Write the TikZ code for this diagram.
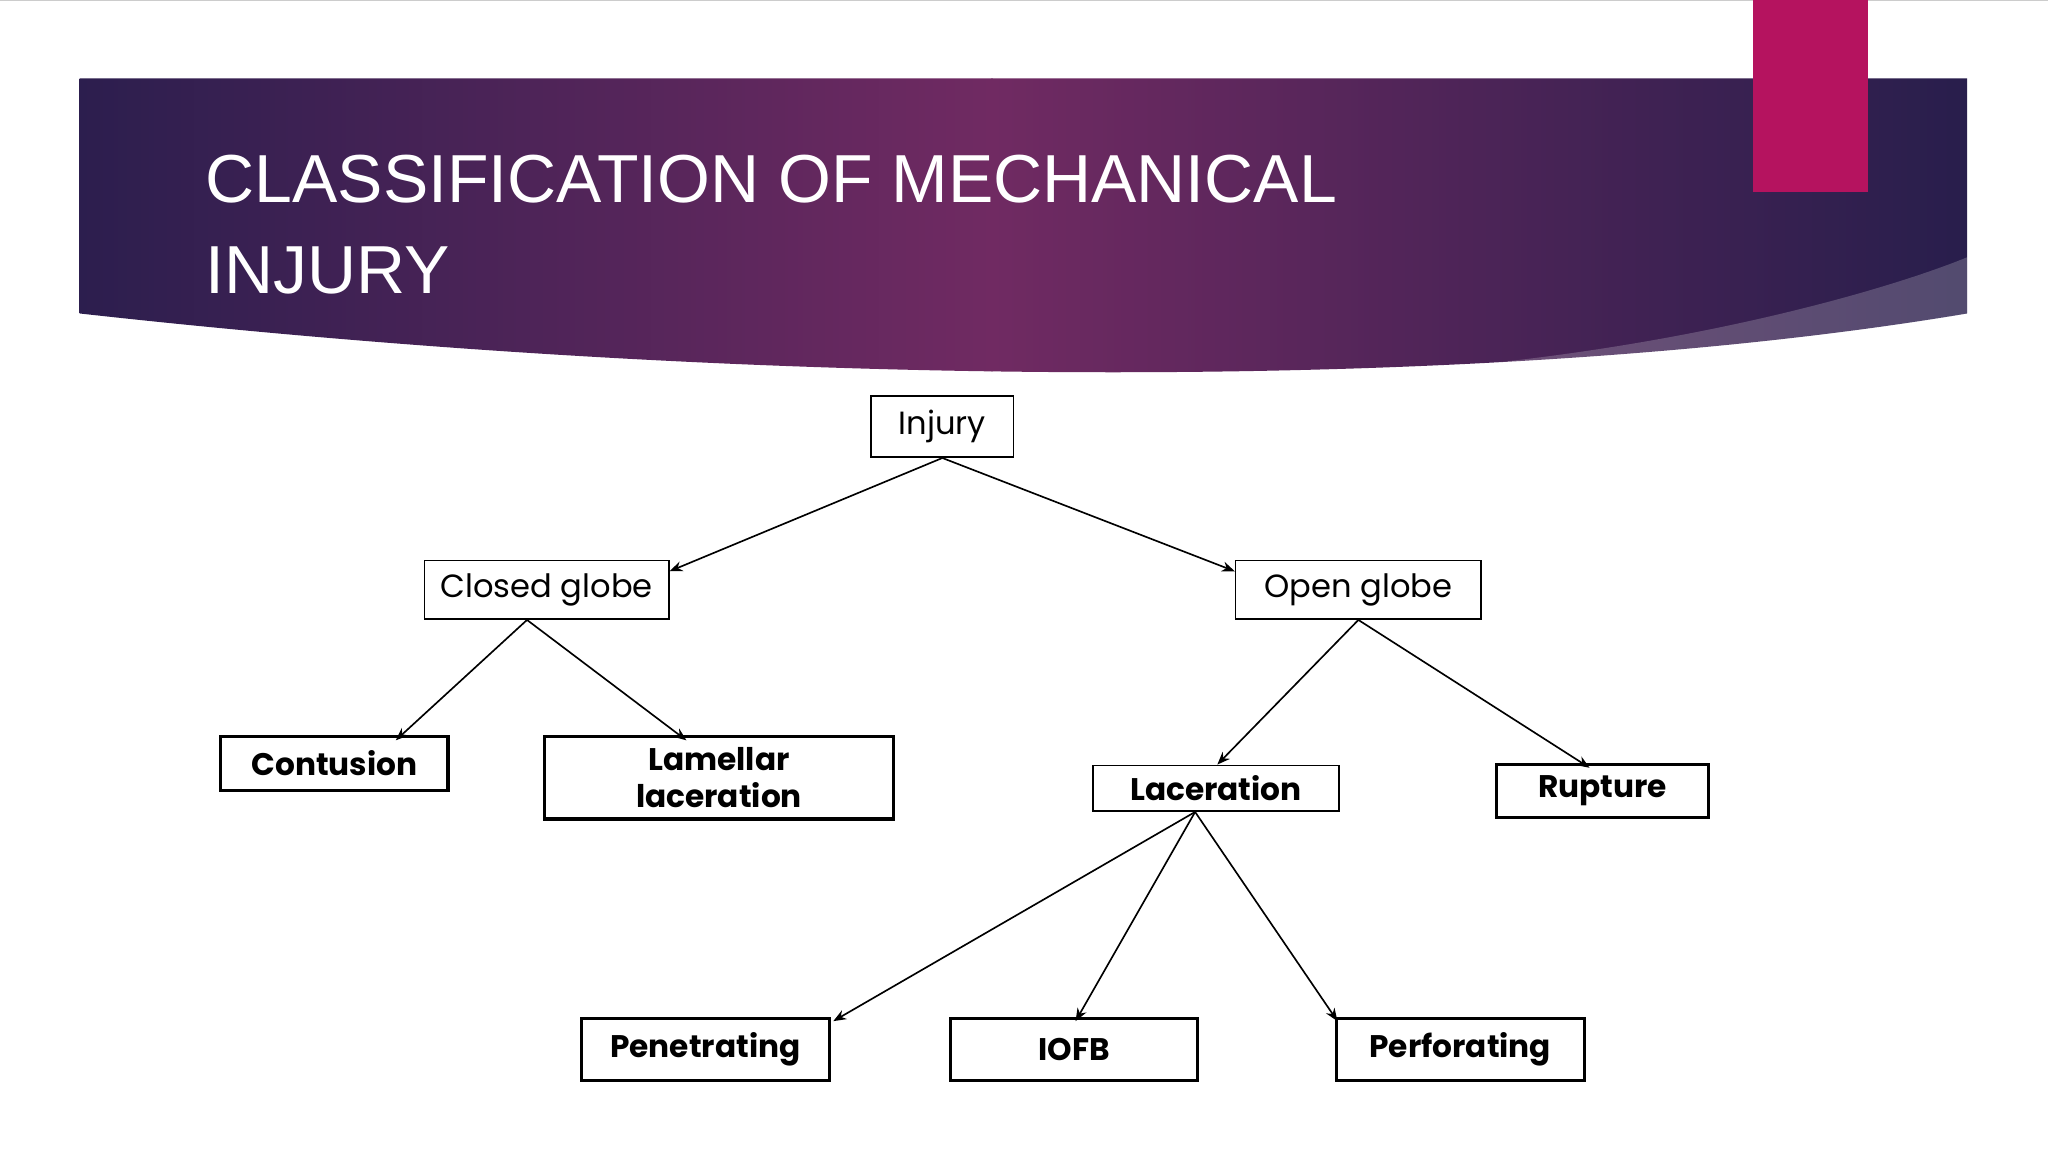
\documentclass[tikz,border=0pt]{standalone}
\usepackage{fontspec}
\usetikzlibrary{arrows.meta}
\setmainfont{Poppins}
\newfontfamily\titlefont{Liberation Sans}
\definecolor{hdark}{RGB}{44,30,78}
\definecolor{hdarkr}{RGB}{40,30,76}
\definecolor{hmid}{RGB}{112,42,98}
\definecolor{hpink}{RGB}{181,19,95}
\begin{document}
\begin{tikzpicture}[x=0.05cm,y=-0.05cm,
  thin box/.style={draw=black,line width=1.8pt,inner sep=0pt,font=\fontsize{35}{40}\selectfont},
  thick box/.style={draw=black,line width=3.4pt,inner sep=0pt,font=\bfseries\fontsize{34}{38}\selectfont,align=center},
  arr/.style={-{Stealth[length=14pt,width=11pt]},line width=1.8pt}]
\useasboundingbox (0,0) rectangle (1568,882);
\fill[white] (0,0) rectangle (1568,882);
\draw[gray!40,line width=1pt] (0,0.5) -- (1568,0.5);
\begin{scope}
\clip (61,60) -- (1506,60) -- (1506,240) .. controls (1150,300) and (600,300) .. (61,240) -- cycle;
\shade[left color=hdark,right color=hmid] (61,60) rectangle (760,300);
\shade[left color=hmid,right color=hdarkr] (759,60) rectangle (1506,300);
\end{scope}
\fill[white,opacity=0.2] (1100,282) .. controls (1300,265) and (1450,220) .. (1506,197) -- (1506,240) .. controls (1380,262) and (1250,276) .. (1100,282) -- cycle;
\fill[hpink] (1342,0) rectangle (1430,147);
\node[anchor=west,text=white,font=\titlefont\fontsize{74}{100}\selectfont,align=left] (title) at (155,172) {CLASSIFICATION OF MECHANICAL\\INJURY};
\node[thin box,minimum width=109*0.05cm,minimum height=47*0.05cm] (inj) at (721.5,326.5) {Injury};
\node[thin box,minimum width=187*0.05cm,minimum height=45*0.05cm] (cg) at (418.5,451.5) {Closed globe};
\node[thin box,minimum width=188*0.05cm,minimum height=45*0.05cm] (og) at (1040,451.5) {Open globe};
\node[thick box,minimum width=174*0.05cm,minimum height=41*0.05cm] (con) at (256,584.5) {Contusion};
\node[thick box,minimum width=267*0.05cm,minimum height=63*0.05cm,font=\bfseries\fontsize{34}{40}\selectfont] (lam) at (550.5,595.5) {Lamellar\\laceration};
\node[thin box,minimum width=188*0.05cm,minimum height=35*0.05cm,font=\bfseries\fontsize{34}{38}\selectfont] (lac) at (931,603.5) {Laceration};
\node[thick box,minimum width=162*0.05cm,minimum height=41*0.05cm] (rup) at (1227,605.5) {Rupture};
\node[thick box,minimum width=190*0.05cm,minimum height=47*0.05cm] (pen) at (540,803.5) {Penetrating};
\node[thick box,minimum width=189*0.05cm,minimum height=47*0.05cm] (iofb) at (822.5,803.5) {IOFB};
\node[thick box,minimum width=190*0.05cm,minimum height=47*0.05cm] (per) at (1118,803.5) {Perforating};
\draw[arr] (inj.south) -- ([yshift=-9*0.05cm]cg.north east);
\draw[arr] (inj.south) -- ([yshift=-9*0.05cm]og.north west);
\draw[arr] ([xshift=-15*0.05cm]cg.south) -- ([xshift=47*0.05cm,yshift=-4*0.05cm]con.north);
\draw[arr] ([xshift=-15*0.05cm]cg.south) -- ([xshift=-25*0.05cm,yshift=-4*0.05cm]lam.north);
\draw[arr] (og.south) -- ([xshift=1*0.05cm]lac.north);
\draw[arr] (og.south) -- ([xshift=-10*0.05cm,yshift=-4*0.05cm]rup.north);
\draw[arr] ([xshift=-16*0.05cm]lac.south) -- ([xshift=98*0.05cm,yshift=-3*0.05cm]pen.north);
\draw[arr] ([xshift=-16*0.05cm]lac.south) -- ([xshift=1*0.05cm,yshift=-3*0.05cm]iofb.north);
\draw[arr] ([xshift=-16*0.05cm]lac.south) -- ([xshift=-94*0.05cm,yshift=-3*0.05cm]per.north);
\end{tikzpicture}
\end{document}
